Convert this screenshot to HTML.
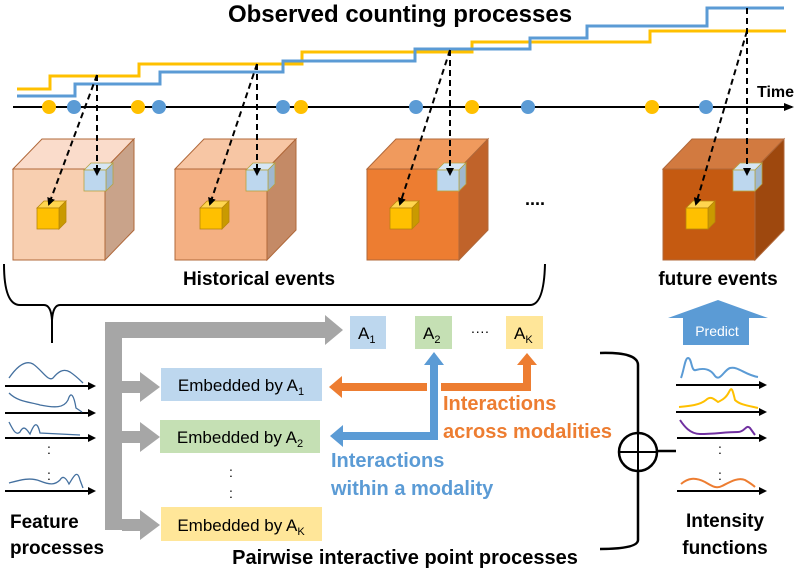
<!DOCTYPE html>
<html><head><meta charset="utf-8"><style>
body{margin:0;background:#fff}
svg{display:block}
text{font-family:"Liberation Sans",sans-serif}
.b{font-weight:bold}
</style></head><body>
<svg width="801" height="571" viewBox="0 0 801 571" xmlns="http://www.w3.org/2000/svg">
<defs>
<marker id="ah" markerWidth="8" markerHeight="8" refX="6" refY="4" orient="auto" markerUnits="userSpaceOnUse"><path d="M0,0 L8,4 L0,8 z" fill="#000"/></marker>
<marker id="ah2" markerWidth="10" markerHeight="10" refX="8" refY="5" orient="auto" markerUnits="userSpaceOnUse"><path d="M0,1 L10,5 L0,9 z" fill="#000"/></marker>
<g id="ycube"><polygon points="0,7 7,0 29,0 22,7" fill="#ffd54f" stroke="#b8860b" stroke-width="0.8"/><polygon points="22,7 29,0 29,21 22,28" fill="#c99a00" stroke="#b8860b" stroke-width="0.8"/><rect x="0" y="7" width="22" height="21" fill="#ffc000" stroke="#b8860b" stroke-width="0.8"/></g>
<g id="bcube"><polygon points="0,7 7,0 29,0 22,7" fill="#d6e6f4" stroke="#b5a442" stroke-width="0.8"/><polygon points="22,7 29,0 29,21 22,28" fill="#9fb8cf" stroke="#b5a442" stroke-width="0.8"/><rect x="0" y="7" width="22" height="21" fill="#bdd7ee" stroke="#b5a442" stroke-width="0.8"/></g>
</defs>

<text x="400" y="22" class="b" font-size="24" text-anchor="middle">Observed counting processes</text>

<polyline points="17,89 50,89 50,76 139,76 139,64 302,64 302,52 472,52 472,42 650,42 650,31 786,31" fill="none" stroke="#ffc000" stroke-width="3"/>
<polyline points="17,96 75,96 75,84 160,84 160,72 283,72 283,61 415,61 415,49 530,49 530,38 587,38 587,26 707,26 707,8 784,8" fill="none" stroke="#5b9bd5" stroke-width="3"/>

<line x1="13" y1="107" x2="792" y2="107" stroke="#000" stroke-width="2" marker-end="url(#ah2)"/>
<text x="757" y="97" class="b" font-size="16">Time</text>
<g fill="#ffc000"><circle cx="49" cy="107" r="7"/><circle cx="138" cy="107" r="7"/><circle cx="301" cy="107" r="7"/><circle cx="472" cy="107" r="7"/><circle cx="652" cy="107" r="7"/></g>
<g fill="#5b9bd5"><circle cx="74" cy="107" r="7"/><circle cx="159" cy="107" r="7"/><circle cx="283" cy="107" r="7"/><circle cx="416" cy="107" r="7"/><circle cx="528" cy="107" r="7"/><circle cx="706" cy="107" r="7"/></g>

<g stroke="#b0683a" stroke-width="1">
<polygon points="13,169 42,139 134,139 105,169" fill="#fadccb"/><polygon points="105,169 134,139 134,230 105,260" fill="#c9a38a"/><rect x="13" y="169" width="92" height="91" fill="#f8cfb0"/>
<polygon points="175,169 204,139 296,139 267,169" fill="#f7c6a4"/><polygon points="267,169 296,139 296,230 267,260" fill="#c48a66"/><rect x="175" y="169" width="92" height="91" fill="#f4b083"/>
<polygon points="367,169 396,139 488,139 459,169" fill="#f09a5d"/><polygon points="459,169 488,139 488,230 459,260" fill="#c0632a"/><rect x="367" y="169" width="92" height="91" fill="#ed7d31"/>
<polygon points="663,169 692,139 784,139 755,169" fill="#d27a40"/><polygon points="755,169 784,139 784,230 755,260" fill="#9e480e"/><rect x="663" y="169" width="92" height="91" fill="#c55a11"/>
</g>
<use href="#ycube" x="37" y="201"/><use href="#bcube" x="84" y="163"/>
<use href="#ycube" x="200" y="201"/><use href="#bcube" x="246" y="163"/>
<use href="#ycube" x="390" y="201"/><use href="#bcube" x="437" y="163"/>
<use href="#ycube" x="686" y="201"/><use href="#bcube" x="733" y="163"/>
<text x="535" y="205" class="b" font-size="18" text-anchor="middle">....</text>

<g stroke="#000" stroke-width="2" stroke-dasharray="6,4" fill="none">
<line x1="97" y1="75" x2="97" y2="174" marker-end="url(#ah)"/>
<line x1="97" y1="75" x2="49" y2="204" marker-end="url(#ah)"/>
<line x1="257" y1="64" x2="257" y2="174" marker-end="url(#ah)"/>
<line x1="257" y1="64" x2="210" y2="204" marker-end="url(#ah)"/>
<line x1="450" y1="50" x2="450" y2="174" marker-end="url(#ah)"/>
<line x1="450" y1="50" x2="400" y2="204" marker-end="url(#ah)"/>
<line x1="747" y1="8" x2="747" y2="174" marker-end="url(#ah)"/>
<line x1="747" y1="31" x2="696" y2="204" marker-end="url(#ah)"/>
</g>

<text x="259" y="285" class="b" font-size="19" text-anchor="middle">Historical events</text>
<text x="718" y="285" class="b" font-size="19" text-anchor="middle">future events</text>

<path d="M4,264 Q4,305 20,305 L44,305 Q51,305 52,320 L52,343 M52,320 Q53,305 60,305 L530,305 Q544,305 545,264" fill="none" stroke="#000" stroke-width="2"/>

<g stroke="#000" stroke-width="2">
<line x1="5" y1="386" x2="94" y2="386" marker-end="url(#ah)"/>
<line x1="5" y1="413" x2="94" y2="413" marker-end="url(#ah)"/>
<line x1="5" y1="438" x2="94" y2="438" marker-end="url(#ah)"/>
<line x1="5" y1="491" x2="94" y2="491" marker-end="url(#ah)"/>
</g>
<g stroke="#44709f" stroke-width="1.3" fill="none">
<path d="M9,378 C18,365 26,360 33,364 C42,370 48,382 53,378 C58,372 63,368 70,372 C76,376 80,380 83,383"/>
<path d="M9,393 C18,402 30,402 40,405 C55,408 64,408 68,400 C71,390 74,396 76,408 L82,412"/>
<path d="M9,422 C13,430 16,436 20,432 C24,424 27,430 30,434 C34,424 37,420 40,433 L80,435"/>
<path d="M9,483 C20,480 30,477 40,481 C50,485 55,485 60,480 C63,475 66,478 69,484 C73,478 77,468 80,480 L83,488"/>
</g>
<text x="49" y="454" font-size="14" text-anchor="middle">:</text>
<text x="49" y="480" font-size="14" text-anchor="middle">:</text>
<text x="10" y="528" class="b" font-size="19">Feature</text>
<text x="10" y="554" class="b" font-size="19">processes</text>

<g fill="#a6a6a6">
<path d="M105,322 L325,322 L325,315 L343,330 L325,345 L325,338 L122,338 L122,530 L105,530 z"/>
<path d="M122,381 L140,381 L140,372 L160,387 L140,402 L140,393 L122,393 z"/>
<path d="M122,431 L140,431 L140,422 L160,437 L140,452 L140,443 L122,443 z"/>
<path d="M122,519 L140,519 L140,510 L160,525 L140,540 L140,531 L122,531 z"/>
</g>

<rect x="350" y="316" width="36" height="33" fill="#bdd7ee"/>
<text x="358" y="339" font-size="17">A<tspan font-size="11" dy="4">1</tspan></text>
<rect x="415" y="316" width="37" height="33" fill="#c5e0b4"/>
<text x="423" y="339" font-size="17">A<tspan font-size="11" dy="4">2</tspan></text>
<text x="480" y="336" font-size="14" text-anchor="middle">····</text>
<rect x="506" y="316" width="37" height="33" fill="#ffe699"/>
<text x="514" y="339" font-size="17">A<tspan font-size="11" dy="4">K</tspan></text>

<rect x="161" y="368" width="161" height="33" fill="#bdd7ee"/>
<text x="241" y="391" font-size="17" text-anchor="middle">Embedded by A<tspan font-size="11" dy="4">1</tspan></text>
<rect x="160" y="420" width="160" height="33" fill="#c5e0b4"/>
<text x="240" y="443" font-size="17" text-anchor="middle">Embedded by A<tspan font-size="11" dy="4">2</tspan></text>
<text x="231" y="477" font-size="14" text-anchor="middle">:</text>
<text x="231" y="498" font-size="14" text-anchor="middle">:</text>
<rect x="161" y="507" width="161" height="34" fill="#ffe699"/>
<text x="241" y="531" font-size="17" text-anchor="middle">Embedded by A<tspan font-size="11" dy="4">K</tspan></text>

<g fill="#ed7d31">
<path d="M427,383 L342,383 L342,376 L329,387 L342,398 L342,391 L427,391 z"/>
<path d="M441,383 L523,383 L523,365 L517,365 L527,353 L537,365 L531,365 L531,391 L441,391 z"/>
</g>
<g fill="#5b9bd5">
<path d="M430,432 L430,365 L424,365 L434,352 L444,365 L438,365 L438,440 L343,440 L343,447 L330,436 L343,425 L343,432 z"/>
</g>
<text x="443" y="410" class="b" font-size="20" fill="#ed7d31">Interactions</text>
<text x="443" y="438" class="b" font-size="20" fill="#ed7d31">across modalities</text>
<text x="331" y="467" class="b" font-size="20" fill="#5b9bd5">Interactions</text>
<text x="331" y="495" class="b" font-size="20" fill="#5b9bd5">within a modality</text>
<text x="405" y="564" class="b" font-size="20" text-anchor="middle">Pairwise interactive point processes</text>

<path d="M600,353 Q638,352 638,365 L638,540 Q638,549 600,549" fill="none" stroke="#000" stroke-width="2.5"/>
<circle cx="638" cy="452" r="19" fill="#fff" stroke="#000" stroke-width="2.5"/>
<line x1="619" y1="452" x2="657" y2="452" stroke="#000" stroke-width="2"/>
<line x1="638" y1="433" x2="638" y2="471" stroke="#000" stroke-width="2"/>
<line x1="657" y1="451" x2="676" y2="451" stroke="#000" stroke-width="2.5"/>

<path d="M683,345 L683,318 L668,318 L718,300 L768,318 L749,318 L749,345 z" fill="#5b9bd5"/>
<text x="717" y="336" font-size="14" fill="#fff" text-anchor="middle">Predict</text>

<g stroke="#000" stroke-width="2">
<line x1="676" y1="385" x2="765" y2="385" marker-end="url(#ah)"/>
<line x1="676" y1="412" x2="765" y2="412" marker-end="url(#ah)"/>
<line x1="677" y1="438" x2="765" y2="438" marker-end="url(#ah)"/>
<line x1="677" y1="491" x2="765" y2="491" marker-end="url(#ah)"/>
</g>
<g fill="none" stroke-width="2">
<path d="M681,378 C684,370 685,358 688,358 C692,358 691,372 696,370 C703,368 710,368 715,376 C720,382 724,370 730,368 C738,366 745,375 758,377" stroke="#5b9bd5"/>
<path d="M679,407 C690,406 700,405 706,400 C710,396 713,398 718,402 C722,400 726,398 729,392 C732,385 733,392 735,400 C740,405 750,406 758,408" stroke="#ffc000"/>
<path d="M680,420 C684,426 690,434 700,434 C715,434 725,432 738,432 C745,432 746,424 750,428 L755,435" stroke="#7030a0"/>
<path d="M681,484 C688,478 695,477 705,482 C712,486 716,489 722,486 C730,482 738,477 745,480 C750,483 753,485 755,487" stroke="#ed7d31"/>
</g>
<text x="720" y="454" font-size="14" text-anchor="middle">:</text>
<text x="720" y="480" font-size="14" text-anchor="middle">:</text>
<text x="725" y="527" class="b" font-size="19" text-anchor="middle">Intensity</text>
<text x="725" y="554" class="b" font-size="19" text-anchor="middle">functions</text>
</svg>
</body></html>
